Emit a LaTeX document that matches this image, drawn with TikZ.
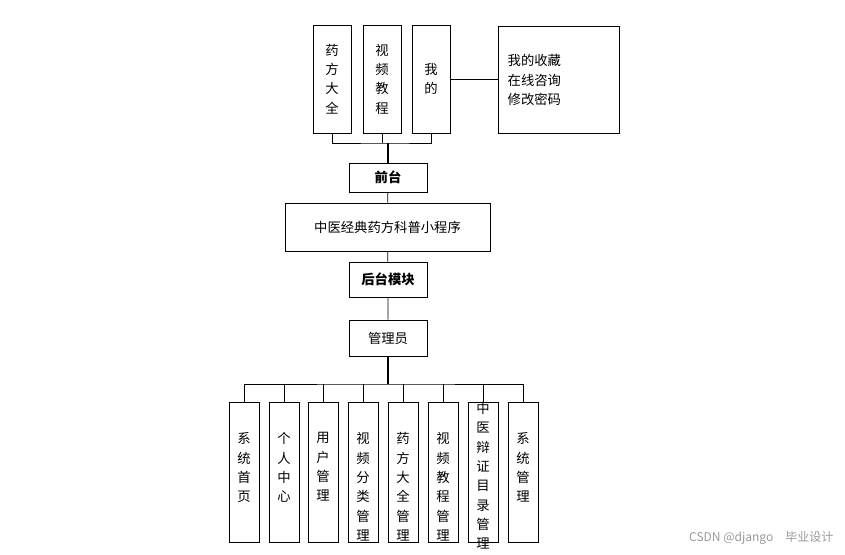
\documentclass[tikz,border=0pt]{standalone}
\usepackage{fontspec}
\setmainfont{Noto Sans CJK SC}
\begin{document}
\begin{tikzpicture}[x=0.75pt,y=-0.75pt,
  bx/.style={draw=black,line width=0.6pt,fill=white,inner sep=0pt,font=\fontsize{10}{14.5}\selectfont,align=center},
  ln/.style={line width=0.6pt}]
\useasboundingbox (0,0) rectangle (845,554);
\tikzset{box/.style args={#1/#2/#3/#4}{bx,minimum width=#3*0.75pt,minimum height=#4*0.75pt}}
% top
\node[box=0/0/38/108] (a) at (332,79) {药\\方\\大\\全};
\node[box=0/0/38/108] (b) at (382,79) {视\\频\\教\\程};
\node[box=0/0/38/108] (c) at (431,79) {我\\的};
\node[box=0/0/121/107,align=left,anchor=north west,text height=0pt] (d) at (498,26) {};
\node[anchor=north west,font=\fontsize{10}{14.5}\selectfont,align=left] at (503,50) {我的收藏\\在线咨询\\修改密码};
\draw[ln] (c.east) -- (d.west |- c.east);
\node[box=0/0/78/29,font=\bfseries\fontsize{10}{14}\selectfont] (q) at (388,177.5) {前台};
\node[box=0/0/205/48] (m) at (387.5,227) {中医经典药方科普小程序};
\node[box=0/0/78/35,font=\bfseries\fontsize{10}{14}\selectfont] (h) at (388,279.5) {后台模块};
\node[box=0/0/78/36] (g) at (388,338) {管理员};
\coordinate (t) at (388,143);
\draw[ln] (a.south) |- (t) -| (c.south);
\draw[ln] (b.south) -- (b.south |- t);
\draw[line width=1.2pt] (t) -- (q.north);
\draw[ln] (q) -- (m) (m) -- (h) (h) -- (g);
\coordinate (u) at (388,384);
\draw[line width=1.2pt] (g.south) -- (u);
\foreach \n/\x/\t in {p1/244/系\\统\\首\\页, p2/284/个\\人\\中\\心, p3/323/用\\户\\管\\理, p4/363/视\\频\\分\\类\\管\\理, p5/403/药\\方\\大\\全\\管\\理, p6/443/视\\频\\教\\程\\管\\理, p8/523/系\\统\\管\\理}{
  \node[box=0/0/30/140,anchor=north] (\n) at (\x,402) {};
  \node[anchor=north,align=center,font=\fontsize{10}{14.5}\selectfont] at (\x,428) {\t};
}
\node[box=0/0/30/140,anchor=north] (p7) at (483,402) {};
\node[anchor=north,align=center,font=\fontsize{10}{14.5}\selectfont,inner sep=0pt] at (483,402) {中\\医\\辩\\证\\目\\录\\管\\理};
\draw[ln] (p1.north) |- (u) -| (p8.north);
\foreach \n in {p2,p3,p4,p5,p6,p7}{\draw[ln] (\n.north) -- (\n.north |- u);}
\node[anchor=east,text=gray!80,font=\fontsize{9}{10}\selectfont] (w) at (838,538) {CSDN @django\quad 毕业设计};
\end{tikzpicture}
\end{document}
